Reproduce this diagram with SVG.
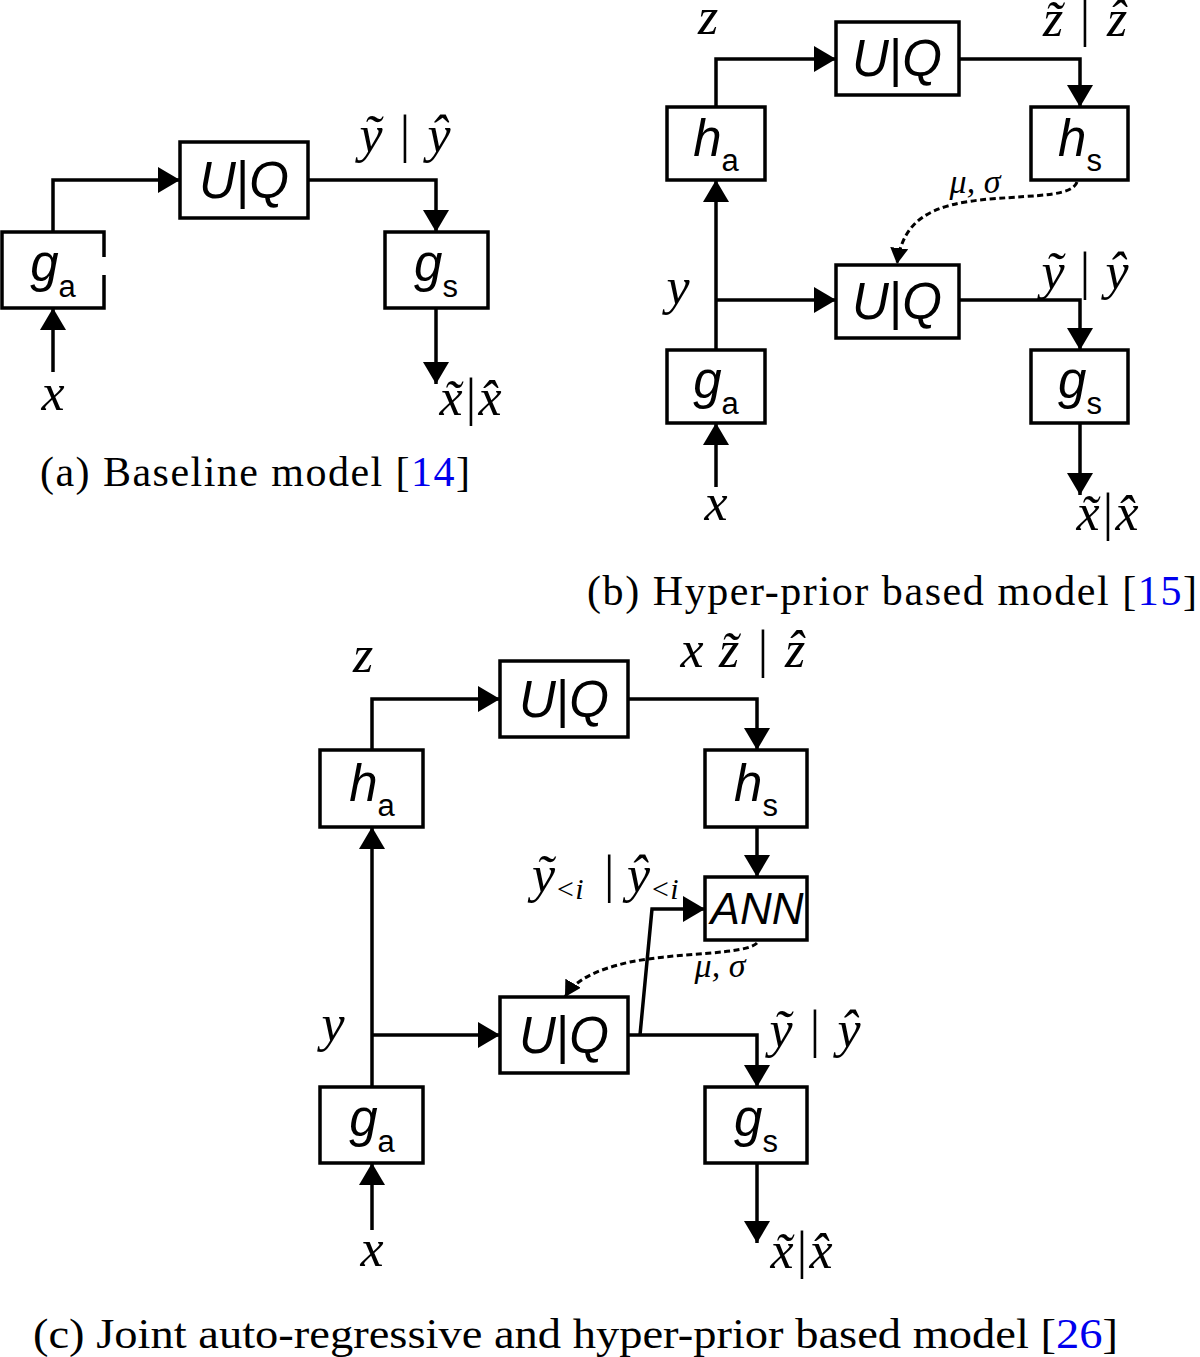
<svg xmlns="http://www.w3.org/2000/svg" width="1200" height="1357" viewBox="0 0 1200 1357">
<style>
.box{fill:#fff;stroke:#000;stroke-width:3.5}
.ln{fill:none;stroke:#000;stroke-width:3.5;marker-end:url(#ah)}
.dash{fill:none;stroke:#000;stroke-width:3;stroke-dasharray:6 3.5;marker-end:url(#dh)}
.bl{font-family:"Liberation Sans",Arial,sans-serif;font-style:italic;font-size:51px;fill:#000}
.ann{font-size:44px}
.sub{font-style:normal;font-size:31px}
.up{font-style:normal}
.m{font-family:"Liberation Serif","Times New Roman",serif;font-style:italic;font-size:52px;fill:#000}
.mu{font-family:"Liberation Serif","Times New Roman",serif;font-style:italic;font-size:34px;fill:#000}
.cap{font-family:"Liberation Serif","Times New Roman",serif;font-size:42px;fill:#000}
.ref{fill:#0000ee}
</style>
<defs>
<marker id="ah" markerUnits="userSpaceOnUse" markerWidth="22" markerHeight="26" viewBox="0 0 22 26" refX="22" refY="13" orient="auto"><path d="M0,0L22,13L0,26z" fill="#000"/></marker>
<marker id="dh" markerUnits="userSpaceOnUse" markerWidth="16" markerHeight="18" viewBox="0 0 16 18" refX="16" refY="9" orient="auto"><path d="M0,0L16,9L0,18z" fill="#000"/></marker>
</defs>

<!-- connectors -->
<g id="connectors">
<!-- (a) -->
<path class="ln" d="M53,372 V308"/>
<path class="ln" d="M53,232 V180 H180"/>
<path class="ln" d="M308,180 H436 V232"/>
<path class="ln" d="M436,308 V384"/>
<!-- (b) -->
<path class="ln" d="M716,107 V59 H836"/>
<path class="ln" d="M959,59 H1080 V107"/>
<path class="ln" d="M716,350 V180"/>
<path class="ln" d="M716,300 H836"/>
<path class="ln" d="M959,300 H1080 V350"/>
<path class="ln" d="M716,487 V423"/>
<path class="ln" d="M1080,423 V495"/>
<path class="dash" d="M1077,182 C1072,196 1040,195 990,199 C930,204 903,220 897,264"/>
<!-- (c) -->
<path class="ln" d="M372,750 V699 H500"/>
<path class="ln" d="M628,699 H757 V750"/>
<path class="ln" d="M757,827 V877"/>
<path class="ln" d="M372,1087 V827"/>
<path class="ln" d="M372,1035 H500"/>
<path class="ln" d="M628,1035 H757 V1087"/>
<path class="ln" d="M640,1035 L652,909 H705"/>
<path class="ln" d="M372,1230 V1163"/>
<path class="ln" d="M757,1163 V1243"/>
<path class="dash" d="M757,943 C745,955 680,952 630,962 C595,970 575,980 565,997"/>
</g>

<!-- (a) nodes -->
<g id="a-ga"><path class="box" d="M104,257 V232 H2 V308 H104 V275"/><text class="bl" x="53" y="281" text-anchor="middle">g<tspan class="sub" dy="16">a</tspan></text></g>
<g id="a-uq"><rect class="box" x="180" y="142" width="128" height="76"/><text class="bl" x="244" y="198" text-anchor="middle">U<tspan class="up">|</tspan>Q</text></g>
<g id="a-gs"><rect class="box" x="385" y="232" width="103" height="76"/><text class="bl" x="436" y="281" text-anchor="middle">g<tspan class="sub" dy="16">s</tspan></text></g>

<!-- (b) nodes -->
<g id="b-ha"><rect class="box" x="667" y="107" width="98" height="73"/><text class="bl" x="716" y="156" text-anchor="middle">h<tspan class="sub" dy="15">a</tspan></text></g>
<g id="b-uq1"><rect class="box" x="836" y="22" width="123" height="73"/><text class="bl" x="897" y="76" text-anchor="middle">U<tspan class="up">|</tspan>Q</text></g>
<g id="b-hs"><rect class="box" x="1031" y="107" width="97" height="73"/><text class="bl" x="1080" y="156" text-anchor="middle">h<tspan class="sub" dy="15">s</tspan></text></g>
<g id="b-uq2"><rect class="box" x="836" y="265" width="123" height="73"/><text class="bl" x="897" y="319" text-anchor="middle">U<tspan class="up">|</tspan>Q</text></g>
<g id="b-ga"><rect class="box" x="667" y="350" width="98" height="73"/><text class="bl" x="716" y="398" text-anchor="middle">g<tspan class="sub" dy="16">a</tspan></text></g>
<g id="b-gs"><rect class="box" x="1031" y="350" width="97" height="73"/><text class="bl" x="1080" y="398" text-anchor="middle">g<tspan class="sub" dy="16">s</tspan></text></g>

<!-- (c) nodes -->
<g id="c-ha"><rect class="box" x="320" y="750" width="103" height="77"/><text class="bl" x="372" y="801" text-anchor="middle">h<tspan class="sub" dy="15">a</tspan></text></g>
<g id="c-uq1"><rect class="box" x="500" y="661" width="128" height="76"/><text class="bl" x="564" y="717" text-anchor="middle">U<tspan class="up">|</tspan>Q</text></g>
<g id="c-hs"><rect class="box" x="705" y="750" width="102" height="77"/><text class="bl" x="756" y="801" text-anchor="middle">h<tspan class="sub" dy="15">s</tspan></text></g>
<g id="c-ann"><rect class="box" x="705" y="877" width="102" height="63"/><text class="bl ann" x="757" y="924" text-anchor="middle">ANN</text></g>
<g id="c-uq2"><rect class="box" x="500" y="997" width="128" height="76"/><text class="bl" x="564" y="1053" text-anchor="middle">U<tspan class="up">|</tspan>Q</text></g>
<g id="c-ga"><rect class="box" x="320" y="1087" width="103" height="76"/><text class="bl" x="372" y="1136" text-anchor="middle">g<tspan class="sub" dy="16">a</tspan></text></g>
<g id="c-gs"><rect class="box" x="705" y="1087" width="102" height="76"/><text class="bl" x="756" y="1136" text-anchor="middle">g<tspan class="sub" dy="16">s</tspan></text></g>

<!-- labels -->
<g id="labels" text-anchor="middle">
<!-- (a) -->
<text class="m" y="152"><tspan x="371">ỹ</tspan><tspan x="405" class="up">|</tspan><tspan x="439">ŷ</tspan></text>
<text class="m" x="53" y="410">x</text>
<text class="m" y="415"><tspan x="451">x̃</tspan><tspan x="471" class="up">|</tspan><tspan x="490">x̂</tspan></text>
<!-- (b) -->
<text class="m" x="708" y="34">z</text>
<text class="m" y="36"><tspan x="1053">z̃</tspan><tspan x="1085" class="up">|</tspan><tspan x="1117">ẑ</tspan></text>
<text class="mu" x="975" y="193">μ, σ</text>
<text class="m" x="678" y="304">y</text>
<text class="m" y="289"><tspan x="1053">ỹ</tspan><tspan x="1085" class="up">|</tspan><tspan x="1117">ŷ</tspan></text>
<text class="m" x="716" y="520">x</text>
<text class="m" y="530"><tspan x="1088">x̃</tspan><tspan x="1108" class="up">|</tspan><tspan x="1127">x̂</tspan></text>
<!-- (c) -->
<text class="m" x="363" y="672">z</text>
<text class="m" y="667"><tspan x="692">x</tspan><tspan x="729">z̃</tspan><tspan x="763" class="up">|</tspan><tspan x="795">ẑ</tspan></text>
<text class="m" y="892" text-anchor="start"><tspan x="532">ỹ</tspan><tspan dy="7" font-size="30">&lt;i</tspan><tspan x="604" dy="-7" class="up">|</tspan><tspan x="627">ŷ</tspan><tspan dy="7" font-size="30">&lt;i</tspan></text>
<text class="mu" x="720" y="977">μ, σ</text>
<text class="m" x="333" y="1041">y</text>
<text class="m" y="1047"><tspan x="781">ỹ</tspan><tspan x="815" class="up">|</tspan><tspan x="849">ŷ</tspan></text>
<text class="m" x="372" y="1266">x</text>
<text class="m" y="1268"><tspan x="782">x̃</tspan><tspan x="802" class="up">|</tspan><tspan x="821">x̂</tspan></text>
</g>

<!-- captions -->
<g id="captions">
<text class="cap" x="40" y="486" textLength="430" lengthAdjust="spacing">(a) Baseline model [<tspan class="ref">14</tspan>]</text>
<text class="cap" x="587" y="605" textLength="610" lengthAdjust="spacing">(b) Hyper-prior based model [<tspan class="ref">15</tspan>]</text>
<text class="cap" x="33" y="1348" textLength="1085" lengthAdjust="spacingAndGlyphs">(c) Joint auto-regressive and hyper-prior based model [<tspan class="ref">26</tspan>]</text>
</g>
</svg>
